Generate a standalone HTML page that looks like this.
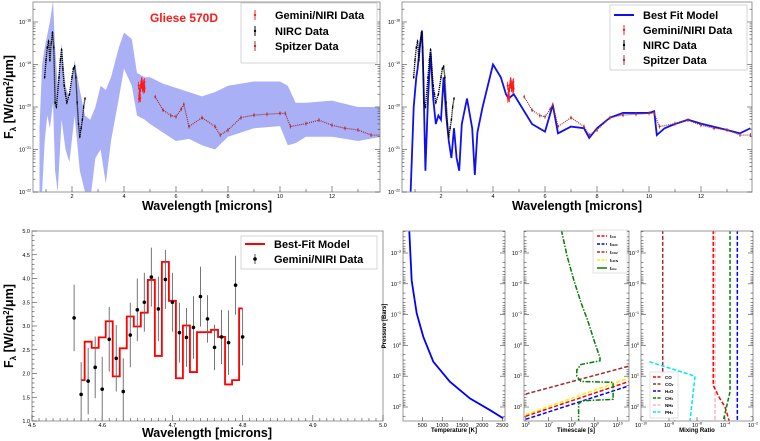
<!DOCTYPE html>
<html><head><meta charset="utf-8"><style>
html,body{margin:0;padding:0;background:#fff;}
svg{display:block;font-family:"Liberation Sans",sans-serif;}
.lg{font-size:11px;font-weight:bold;fill:#000;}
.ax{font-size:12.5px;font-weight:bold;fill:#000;}
.tk{font-size:5.5px;fill:#000;}
.sax{font-size:6px;font-weight:bold;fill:#000;}
</style></head><body>
<svg id="fig" width="760" height="441" viewBox="0 0 760 441" xmlns="http://www.w3.org/2000/svg">
<defs>
<clipPath id="cTL"><rect x="33" y="2" width="347" height="190"/></clipPath>
<clipPath id="cTR"><rect x="402" y="2" width="350" height="190"/></clipPath>
<clipPath id="cBL"><rect x="32" y="231" width="351" height="190"/></clipPath>
<clipPath id="cPT"><rect x="403" y="231" width="102" height="190"/></clipPath>
<clipPath id="cTS"><rect x="524" y="231" width="105" height="190"/></clipPath>
<clipPath id="cMR"><rect x="641" y="231" width="112" height="190"/></clipPath>
</defs>
<g id="gTL"></g>
<g id="gTR"></g>
<g id="gBL"></g>
<g id="gPT"></g>
<g id="gTS"></g>
<g id="gMR"></g>

<text class="ax" x="207" y="210" text-anchor="middle">Wavelength [microns]</text>
<text class="ax" x="577" y="210" text-anchor="middle">Wavelength [microns]</text>
<text class="ax" x="207" y="437" text-anchor="middle">Wavelength [microns]</text>
<text class="ax" transform="translate(13,97) rotate(-90)" text-anchor="middle">F<tspan font-size="8" dy="3">λ</tspan><tspan dy="-3"> [W/cm</tspan><tspan font-size="8" dy="-4">2</tspan><tspan dy="4">/μm]</tspan></text>
<text class="ax" transform="translate(13,326) rotate(-90)" text-anchor="middle">F<tspan font-size="8" dy="3">λ</tspan><tspan dy="-3"> [W/cm</tspan><tspan font-size="8" dy="-4">2</tspan><tspan dy="4">/μm]</tspan></text>
<text class="sax" transform="translate(386,326) rotate(-90)" text-anchor="middle" font-size="5">Pressure [Bars]</text>
<text class="sax" x="454" y="432" text-anchor="middle">Temperature [K]</text>
<text class="sax" x="576" y="432" text-anchor="middle">Timescale [s]</text>
<text class="sax" x="697" y="432" text-anchor="middle">Mixing Ratio</text>
<text x="184" y="22" text-anchor="middle" font-size="12" font-weight="bold" fill="#ff1a1a">Gliese 570D</text>

<g>
<rect x="241" y="3" width="136" height="60" fill="#fff" stroke="#ccc" stroke-width="0.8"/>
<line x1="255" y1="10" x2="255" y2="20" stroke="#f22" stroke-width="1"/><circle cx="255" cy="15" r="1.2" fill="#f22"/>
<text class="lg" x="275" y="19">Gemini/NIRI Data</text>
<line x1="255" y1="26" x2="255" y2="36" stroke="#000" stroke-width="1"/><circle cx="255" cy="31" r="1.2" fill="#000"/>
<text class="lg" x="275" y="35">NIRC Data</text>
<line x1="255" y1="41" x2="255" y2="51" stroke="#b03030" stroke-width="1"/><circle cx="255" cy="46" r="1.2" fill="#b03030"/>
<text class="lg" x="275" y="50">Spitzer Data</text>
</g>
<g>
<rect x="610" y="5" width="137" height="65" fill="#fff" stroke="#ccc" stroke-width="0.8"/>
<line x1="614" y1="15" x2="634" y2="15" stroke="#1010ee" stroke-width="2"/>
<text class="lg" x="643" y="19">Best Fit Model</text>
<line x1="624" y1="25" x2="624" y2="35" stroke="#f22"/><circle cx="624" cy="30" r="1.2" fill="#f22"/>
<text class="lg" x="643" y="34">Gemini/NIRI Data</text>
<line x1="624" y1="40" x2="624" y2="50" stroke="#000"/><circle cx="624" cy="45" r="1.2" fill="#000"/>
<text class="lg" x="643" y="49">NIRC Data</text>
<line x1="624" y1="55" x2="624" y2="65" stroke="#b03030"/><circle cx="624" cy="60" r="1.2" fill="#b03030"/>
<text class="lg" x="643" y="64">Spitzer Data</text>
</g>
<g>
<rect x="241" y="236" width="136" height="33" fill="#fff" stroke="#ccc" stroke-width="0.8"/>
<line x1="245" y1="244" x2="265" y2="244" stroke="#f00" stroke-width="2"/>
<text class="lg" x="274" y="248">Best-Fit Model</text>
<line x1="255" y1="254" x2="255" y2="264" stroke="#555"/><circle cx="255" cy="259" r="1.8" fill="#000"/>
<text class="lg" x="274" y="263">Gemini/NIRI Data</text>
</g>
<g font-size="4.5" font-weight="bold">
<rect x="593" y="230" width="34" height="43" fill="#fff" stroke="#ccc" stroke-width="0.6"/>
<line x1="597" y1="236" x2="607" y2="236" stroke="#f00" stroke-width="1.5" stroke-dasharray="3,1.5"/><text x="610" y="238">t<tspan font-size="3">CO</tspan></text>
<line x1="597" y1="244" x2="607" y2="244" stroke="#0000ff" stroke-width="1.5" stroke-dasharray="3,1.5"/><text x="610" y="246">t<tspan font-size="3">NH3</tspan></text>
<line x1="597" y1="252" x2="607" y2="252" stroke="#a52a2a" stroke-width="1.5" stroke-dasharray="3,1.5"/><text x="610" y="254">t<tspan font-size="3">CO2</tspan></text>
<line x1="597" y1="260" x2="607" y2="260" stroke="#ffee00" stroke-width="1.5" stroke-dasharray="3,1.5"/><text x="610" y="262">t<tspan font-size="3">HCN</tspan></text>
<line x1="597" y1="268" x2="607" y2="268" stroke="#008000" stroke-width="1.5"/><text x="610" y="270">t<tspan font-size="3">mix</tspan></text>
</g>
<g font-size="4.5" font-weight="bold">
<rect x="650" y="372" width="28" height="46" fill="#fff" stroke="#ccc" stroke-width="0.6"/>
<line x1="653" y1="377" x2="662" y2="377" stroke="#f00" stroke-width="1.5" stroke-dasharray="3,1.5"/><text x="665" y="379">CO</text>
<line x1="653" y1="384" x2="662" y2="384" stroke="#a52a2a" stroke-width="1.5" stroke-dasharray="3,1.5"/><text x="665" y="386">CO<tspan font-size="3">2</tspan></text>
<line x1="653" y1="391" x2="662" y2="391" stroke="#0000ff" stroke-width="1.5" stroke-dasharray="3,1.5"/><text x="665" y="393">H<tspan font-size="3">2</tspan>O</text>
<line x1="653" y1="398" x2="662" y2="398" stroke="#008000" stroke-width="1.5" stroke-dasharray="3,1.5"/><text x="665" y="400">CH<tspan font-size="3">4</tspan></text>
<line x1="653" y1="405" x2="662" y2="405" stroke="#ffb6c1" stroke-width="1.5" stroke-dasharray="3,1.5"/><text x="665" y="407">NH<tspan font-size="3">3</tspan></text>
<line x1="653" y1="412" x2="662" y2="412" stroke="#00e5ff" stroke-width="1.5" stroke-dasharray="3,1.5"/><text x="665" y="414">PH<tspan font-size="3">3</tspan></text>
</g>
</svg>
<script>
// ---- spectrum data (log10 flux, W/cm2/um) ----
const modelWl = [0.82,0.95,1.05,1.1,1.2,1.27,1.33,1.4,1.5,1.6,1.7,1.8,1.9,2.0,2.1,2.2,2.3,2.4,2.5,2.6,2.7,2.8,3.0,3.2,3.3,3.4,3.6,4.0,4.3,4.5,4.6,4.8,5.0,5.5,6.0,6.3,6.5,7.0,7.5,7.7,8.0,8.5,9.0,10.0,10.2,10.3,10.6,11.0,11.5,12.0,13.0,13.5,13.9];
const modelF  = [-22.2,-20.0,-19.3,-19.1,-18.5,-18.2,-19.5,-21.5,-19.8,-18.7,-19.8,-20.4,-20.2,-20.3,-19.3,-20.2,-20.8,-21.2,-20.5,-21.2,-21.5,-20.4,-19.8,-20.5,-21.6,-20.6,-20.0,-19.0,-19.3,-19.7,-19.8,-19.7,-19.9,-20.4,-20.58,-19.95,-20.62,-20.46,-20.5,-20.73,-20.5,-20.25,-20.14,-20.14,-20.1,-20.66,-20.5,-20.4,-20.3,-20.39,-20.54,-20.62,-20.5];
const bandWl = [0.75,0.85,0.95,1.05,1.15,1.27,1.35,1.45,1.6,1.75,1.9,2.1,2.3,2.5,2.7,2.9,3.1,3.3,3.5,3.8,4.0,4.3,4.5,4.8,5.0,5.5,6.0,6.5,7.0,7.5,8.0,9.0,10.0,10.3,10.6,11,12,13,13.9];
const bandUpper = [-20.5,-19.0,-18.6,-18.3,-18.0,-17.5,-18.6,-19.5,-18.5,-19.5,-19.8,-18.9,-19.6,-20.2,-20.3,-20.0,-19.5,-19.6,-19.3,-18.6,-18.25,-18.4,-19.2,-19.3,-19.3,-19.45,-19.55,-19.65,-19.75,-19.65,-19.5,-19.4,-19.4,-19.5,-19.9,-19.9,-19.85,-20.0,-20.0];
const bandLower = [-22.3,-22,-20.8,-20.2,-20.5,-19.9,-21.5,-22,-20.3,-21.0,-21.3,-20.2,-21.5,-22,-22.2,-21.2,-21.0,-21.8,-20.8,-19.8,-19.1,-19.5,-20.2,-20.3,-20.4,-20.6,-20.8,-20.75,-20.9,-21.0,-20.7,-20.5,-20.45,-20.9,-20.85,-20.7,-20.7,-20.8,-20.7];
const nircWl = [0.95,1.0,1.05,1.1,1.15,1.2,1.25,1.3,1.35,1.4,1.5,1.55,1.6,1.65,1.7,1.75,1.8,1.9,2.0,2.05,2.1,2.15,2.2,2.25,2.3,2.35,2.4,2.45,2.5];
const nircF = [-19.3,-18.9,-18.6,-18.45,-18.9,-18.5,-18.25,-18.6,-19.9,-20.0,-19.3,-18.9,-18.65,-19.1,-19.5,-19.7,-19.9,-19.7,-19.3,-19.1,-19.05,-19.3,-19.9,-20.4,-20.7,-20.5,-20.3,-20.0,-19.8];
const spitzerWl = [5.2,5.5,5.8,6.0,6.2,6.3,6.5,7.0,7.5,7.7,8.0,8.5,9.0,9.5,10.0,10.2,10.4,11.0,11.5,12.0,12.5,13.0,13.5,13.9];
const spitzerF = [-19.76,-20.07,-20.2,-20.23,-20.05,-19.94,-20.46,-20.25,-20.46,-20.66,-20.54,-20.25,-20.19,-20.17,-20.15,-20.15,-20.46,-20.39,-20.31,-20.43,-20.5,-20.54,-20.66,-20.66];
// ---- Gemini/NIRI (units 1e-20) ----
const niriWl = [4.56,4.57,4.58,4.59,4.60,4.61,4.62,4.63,4.64,4.65,4.66,4.67,4.68,4.69,4.70,4.71,4.72,4.73,4.74,4.75,4.76,4.77,4.78,4.79,4.80];
const niriF = [3.17,1.56,1.84,2.13,1.67,2.72,2.32,1.62,2.81,3.34,3.50,4.03,3.36,3.98,3.50,2.86,2.76,2.97,3.62,3.15,2.55,2.77,2.65,3.86,2.77];
const niriErr = [0.7,0.68,0.7,0.65,0.68,0.68,0.7,0.7,0.68,0.66,0.62,0.62,0.68,0.62,0.62,0.63,0.62,0.66,0.63,0.5,0.48,0.57,0.68,0.62,0.6];
const fitWl = [4.57,4.58,4.59,4.60,4.61,4.62,4.63,4.64,4.65,4.66,4.67,4.68,4.69,4.70,4.71,4.72,4.73,4.74,4.75,4.76,4.77,4.78,4.79,4.80];
const fitF = [1.86,2.67,2.54,2.76,3.10,1.94,2.53,3.20,2.99,3.28,3.97,2.37,4.35,3.53,1.90,3.01,2.03,2.87,2.87,2.92,2.77,1.77,1.86,3.37];
// ---- P-T profile ----
const ptT = [175,235,360,525,775,1190,1690,2190,2525];
const ptLogP = [-3.7,-2.1,-1.04,-0.28,0.53,1.18,1.72,2.1,2.37];
// ---- timescales (log10 s vs log10 P) ----
const tCO = [6.0,10.5]; const tCOP = [2.3,1.17];
const tNH3 = [6.0,10.5]; const tNH3P = [2.4,1.31];
const tCO2 = [6.0,10.5]; const tCO2P = [1.58,0.67];
const tHCN = [6.0,10.5]; const tHCNP = [2.25,1.05];
const tMix = [7.55,7.8,8.1,8.4,8.7,9.0,9.23,9.23,8.4,8.22,8.22,8.4,9.8,9.8,8.45,8.3,8.3];
const tMixP = [-3.75,-2.9,-2.1,-1.4,-0.8,-0.1,0.4,0.5,0.62,0.8,1.0,1.17,1.2,1.75,1.8,1.9,2.45];
// ---- mixing ratios (log10) ----
const mrCO = [-4.84,-4.84,-4.4,-4.0,-3.7]; const mrCOP = [-3.75,1.3,1.7,2.0,2.45];
const mrCO2 = [-8.45,-8.45,-8.2,-7.6]; const mrCO2P = [-3.75,1.0,1.6,2.45];
const mrH2O = [-3.12,-3.12]; const mrH2OP = [-3.75,2.45];
const mrCH4 = [-3.64,-3.64,-4.12]; const mrCH4P = [-3.75,1.5,2.45];
const mrNH3 = [-4.71,-4.71]; const mrNH3P = [-3.75,2.45];
const mrPH3 = [-9.4,-6.14,-6.5]; const mrPH3P = [0.53,1.0,2.45];

const NS='http://www.w3.org/2000/svg';
function mk(tag, parent){const e=document.createElementNS(NS,tag);parent.appendChild(e);return e;}
function pts(xs,ys,fx,fy){return xs.map((v,i)=>fx(v).toFixed(2)+','+fy(ys[i]).toFixed(2)).join(' ');}

const xTL=w=>20+26*w, xTR=w=>389+26*w, yTop=l=>192-(l+22)*42.5;
const xBL=w=>32+(w-4.5)*702, yBL=v=>421-(v-1)*47.5;
const yP=l=>253+(l+3)*30.8;
const xPT=t=>402.3+0.04*t, xTS=l=>525.7+(l-6)*23, xMR=l=>641+(l+10)*14;

function frame(g,x,y,w,h,name){
  const r=mk('rect',g);
  
  
  r.setAttribute('x',x);r.setAttribute('y',y);r.setAttribute('width',w);r.setAttribute('height',h);
  r.setAttribute('fill','none');r.setAttribute('stroke','#999');r.setAttribute('stroke-width','1');
}
function tickLine(g,x1,y1,x2,y2){
  const l=mk('line',g);
  
  
  l.setAttribute('x1',x1);l.setAttribute('y1',y1);l.setAttribute('x2',x2);l.setAttribute('y2',y2);
  l.setAttribute('stroke','#444');l.setAttribute('stroke-width','0.6');
}
function label(g,x,y,txt,anchor,sup){
  const t=mk('text',g);
  
  
  t.setAttribute('class','tk');t.setAttribute('x',x);t.setAttribute('y',y);t.setAttribute('text-anchor',anchor);
  t.textContent=txt;
  if(sup!==undefined){const s=mk('tspan',t);s.setAttribute('font-size','3.5');s.setAttribute('dy','-2.5');s.textContent=sup;}
}
function logYTicks(g,left,right,lo,hi,fy,yMin,yMax){
  for(let d=Math.floor(lo);d<=Math.ceil(hi);d++){
    for(let m=1;m<10;m++){
      const y=fy(d+Math.log10(m));
      if(y<yMin||y>yMax)continue;
      const len=m===1?5:2.5;
      tickLine(g,left,y,left+len,y);
      if(right)tickLine(g,right,y,right-len,y);
      if(m===1)label(g,left-2,y+2,'10',"end",String(d).replace('-','−'));
    }
  }
}
function poly(g,xs,ys,fx,fy,stroke,w,dash,name,clip){
  const p=mk('polyline',g);
  
  
  p.setAttribute('points',pts(xs,ys,fx,fy));
  p.setAttribute('fill','none');p.setAttribute('stroke',stroke);p.setAttribute('stroke-width',w);
  if(dash)p.setAttribute('stroke-dasharray',dash);
  if(clip)p.setAttribute('clip-path','url(#'+clip+')');
  return p;
}
function errPts(g,xs,ys,fx,fy,e,color,name,clip,r){
  xs.forEach((w,i)=>{
    const l=mk('line',g);
    
    
    l.setAttribute('x1',fx(w));l.setAttribute('x2',fx(w));
    l.setAttribute('y1',fy(ys[i])-e);l.setAttribute('y2',fy(ys[i])+e);
    l.setAttribute('stroke',color);l.setAttribute('stroke-width','0.8');l.setAttribute('clip-path','url(#'+clip+')');
    const c=mk('circle',g);
    
    
    c.setAttribute('cx',fx(w));c.setAttribute('cy',fy(ys[i]));c.setAttribute('r',r);c.setAttribute('fill',color);
    c.setAttribute('clip-path','url(#'+clip+')');
  });
}
const niriLog = niriF.map(v=>Math.log10(v*1e-20));

function spectrumPanel(g,fx,left,right,clip,withBand){
  if(withBand){
    const b=mk('polygon',g);
    
    
    b.setAttribute('points',pts(bandWl,bandUpper,fx,yTop)+' '+pts(bandWl.slice().reverse(),bandLower.slice().reverse(),fx,yTop));
    b.setAttribute('fill','#aab0f5');b.setAttribute('clip-path','url(#'+clip+')');
  } else {
    poly(g,modelWl,modelF,fx,yTop,'#1010ee',1.8,null,'best-fit-model-line',clip);
  }
  poly(g,nircWl,nircF,fx,yTop,'#000',1.4,'1.2,0.8','nirc-data-trace',clip);
  errPts(g,nircWl,nircF,fx,yTop,1.5,'#000','nirc-data',clip,0.8);
  poly(g,spitzerWl,spitzerF,fx,yTop,'#a52a2a',1.2,'1,1','spitzer-data-trace',clip);
  errPts(g,spitzerWl,spitzerF,fx,yTop,2,'#b03030','spitzer-data',clip,0.9);
  errPts(g,niriWl,niriLog,fx,yTop,4,'#ff1a1a','gemini-data',clip,0.9);
  frame(g,left,2,right-left,190,'plot-frame');
  logYTicks(g,left,right,-22,-17,yTop,2,192);
  for(let w=1;w<=14;w++){
    const x=fx(w); if(x<left||x>right)continue;
    tickLine(g,x,192,x,w%2?189:186);
    if(w%2===0)label(g,x,198,String(w),'middle');
  }
}
spectrumPanel(document.getElementById('gTL'),xTL,33,380,'cTL',true);
spectrumPanel(document.getElementById('gTR'),xTR,402,752,'cTR',false);

(function(){
  const g=document.getElementById('gBL');
  frame(g,32,231,351,190,'plot-frame');
  for(let i=0;i<=50;i++){const w=4.5+i*0.01;const x=xBL(w);tickLine(g,x,421,x,i%10===0?415:418);}
  for(let i=0;i<=5;i++){const w=4.5+i*0.1;label(g,xBL(w),427,w.toFixed(1),'middle');}
  for(let i=0;i<=40;i++){const v=1+i*0.1;const y=yBL(v);tickLine(g,32,y,i%5===0?37:34.5,y);}
  for(let i=0;i<=8;i++){const v=1+i*0.5;label(g,30,yBL(v)+2,v.toFixed(1),'end');}
  let d='';
  fitWl.forEach((w,i)=>{
    const x0=i===0?xBL(w):xBL((w+fitWl[i-1])/2);
    const x1=i===fitWl.length-1?xBL(w):xBL((w+fitWl[i+1])/2);
    d+=(i===0?'M':'L')+x0.toFixed(2)+','+yBL(fitF[i]).toFixed(2)+' L'+x1.toFixed(2)+','+yBL(fitF[i]).toFixed(2)+' ';
  });
  const p=mk('path',g);
  
  
  p.setAttribute('d',d);p.setAttribute('fill','none');p.setAttribute('stroke','#f00');p.setAttribute('stroke-width','1.8');
  niriWl.forEach((w,i)=>{
    const l=mk('line',g);
    
    
    l.setAttribute('x1',xBL(w));l.setAttribute('x2',xBL(w));
    l.setAttribute('y1',yBL(niriF[i]-niriErr[i]));l.setAttribute('y2',yBL(niriF[i]+niriErr[i]));
    l.setAttribute('stroke','#666');l.setAttribute('stroke-width','0.9');l.setAttribute('clip-path','url(#cBL)');
    const c=mk('circle',g);
    
    
    c.setAttribute('cx',xBL(w));c.setAttribute('cy',yBL(niriF[i]));c.setAttribute('r','1.8');c.setAttribute('fill','#000');
  });
})();

function pressureAxis(g,left,right){ logYTicks(g,left,right,-4,3,yP,231,421); }
(function(){
  const g=document.getElementById('gPT');
  poly(g,ptT,ptLogP,xPT,yP,'#0000ff',1.8,null,'pt-profile-line','cPT');
  frame(g,403,231,102,190,'plot-frame');
  pressureAxis(g,403,505);
  [500,1000,1500,2000,2500].forEach(t=>{tickLine(g,xPT(t),421,xPT(t),417);label(g,xPT(t),427,String(t),'middle');});
})();
(function(){
  const g=document.getElementById('gTS');
  poly(g,tCO2,tCO2P,xTS,yP,'#a52a2a',1.5,'4,2','t-co2-line','cTS');
  poly(g,tHCN,tHCNP,xTS,yP,'#ffee00',1.5,'4,2','t-hcn-line','cTS');
  poly(g,tCO,tCOP,xTS,yP,'#ff0000',1.5,'4,2','t-co-line','cTS');
  poly(g,tNH3,tNH3P,xTS,yP,'#0000ff',1.5,'4,2','t-nh3-line','cTS');
  poly(g,tMix,tMixP,xTS,yP,'#008000',1.5,'5,1.5,1.5,1.5','t-mix-line','cTS');
  frame(g,524,231,105,190,'plot-frame');
  pressureAxis(g,524,629);
  [6,7,8,9,10].forEach(l=>{tickLine(g,xTS(l),421,xTS(l),417);label(g,xTS(l),427,'10','middle',String(l));});
})();
(function(){
  const g=document.getElementById('gMR');
  poly(g,mrCO2,mrCO2P,xMR,yP,'#a52a2a',1.5,'4,2','co2-line','cMR');
  poly(g,mrNH3,mrNH3P,xMR,yP,'#ffb6c1',1.5,'4,2','nh3-line','cMR');
  poly(g,mrCO,mrCOP,xMR,yP,'#ff0000',1.5,'4,2','co-line','cMR');
  poly(g,mrCH4,mrCH4P,xMR,yP,'#008000',1.5,'4,2','ch4-line','cMR');
  poly(g,mrH2O,mrH2OP,xMR,yP,'#0000ff',1.5,'4,2','h2o-line','cMR');
  poly(g,mrPH3,mrPH3P,xMR,yP,'#00e5ff',1.5,'4,2','ph3-line','cMR');
  frame(g,641,231,112,190,'plot-frame');
  pressureAxis(g,641,753);
  [-10,-8,-6,-4,-2].forEach(l=>{tickLine(g,xMR(l),421,xMR(l),417);label(g,xMR(l),427,'10','middle',String(l).replace('-','−'));});
})();
</script>
</body></html>
